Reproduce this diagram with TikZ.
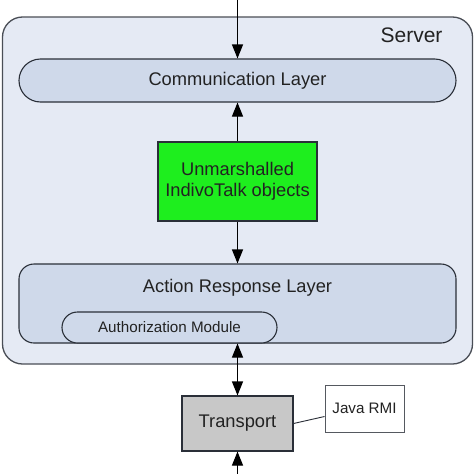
\documentclass[tikz,border=0pt]{standalone}
\usepackage{fontspec}
\setmainfont{Liberation Sans}
\usetikzlibrary{arrows.meta,calc}
\definecolor{serverfill}{HTML}{E5EAF4}
\definecolor{layerfill}{HTML}{CFD9EA}
\definecolor{greenfill}{HTML}{1EEE1E}
\definecolor{transfill}{HTML}{C8C8C8}
\definecolor{edgecol}{HTML}{2A2F38}
\definecolor{textcol}{HTML}{222222}
\tikzset{
  box/.style={draw=edgecol, line width=1.1pt, inner sep=0pt, align=center, text=textcol},
  big/.style={font=\fontsize{18.3}{21}\selectfont},
  small/.style={font=\fontsize{15.2}{18}\selectfont},
  arr/.style={line width=1.1pt, -{Triangle[length=14pt,width=11pt]}},
  darr/.style={line width=1.1pt, {Triangle[length=14pt,width=11pt]}-{Triangle[length=14pt,width=11pt]}},
}
\begin{document}
\begin{tikzpicture}[x=1pt,y=-1pt]
\useasboundingbox (0,0) rectangle (474,474);
\fill[white] (0,0) rectangle (474,474);
% server container
\node[box, draw=edgecol!85, line width=1.3pt, fill=serverfill, rounded corners=20pt,
      minimum width=470pt, minimum height=347pt] (server) at (237.5,190.5) {};
\node[text=textcol, font=\fontsize{21}{24}\selectfont, anchor=east] (servertext) at (446,35) {Server};
% communication layer
\node[box, fill=layerfill, rounded corners=21.5pt, minimum width=437pt, minimum height=43pt, big]
  (comm) at (237.5,80.5) {Communication Layer};
% green box
\node[box, fill=greenfill, minimum width=159pt, minimum height=79pt, big]
  (green) at (237.5,181.5) {Unmarshalled\\IndivoTalk objects};
% action response layer
\node[box, fill=layerfill, rounded corners=15pt, minimum width=437pt, minimum height=79pt]
  (arl) at (237.5,303.5) {};
\node[big, text=textcol] (arltext) at (237.5,288) {Action Response Layer};
\node[box, fill=layerfill, rounded corners=15.5pt, minimum width=215pt, minimum height=31pt, small]
  (auth) at (169.5,327.5) {Authorization Module};
% transport
\node[box, fill=transfill, minimum width=111pt, minimum height=55pt, big]
  (trans) at (237.5,423.5) {Transport};
\node[box, draw=edgecol!80, line width=0.9pt, fill=white, minimum width=79pt, minimum height=47pt, small]
  (rmi) at (364.5,408.5) {Java RMI};
% connectors
\coordinate (topin) at (237.5,0);
\coordinate (botin) at (237.5,474);
\draw[arr] (topin) -- (comm.north);
\draw[arr] (green.north) -- (comm.south);
\draw[arr] (green.south) -- (arl.north);
\draw[darr] (arl.south) -- (trans.north);
\draw[arr] (botin) -- (trans.south);
\draw[line width=0.9pt, edgecol] (trans.east) -- ($(rmi.west)+(0,8)$);
\end{tikzpicture}
\end{document}
